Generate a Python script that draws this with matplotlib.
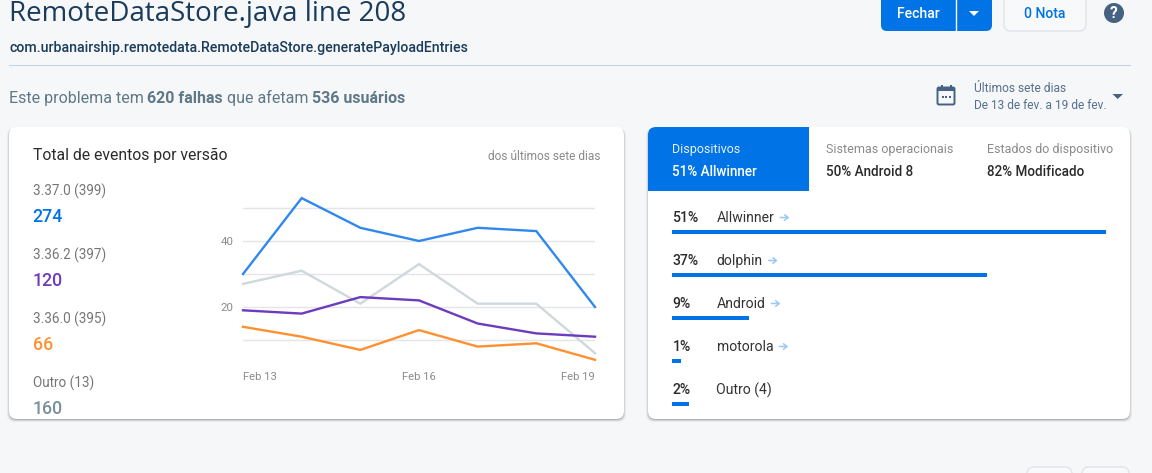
import matplotlib
matplotlib.use("Agg")
import matplotlib.pyplot as plt
from matplotlib.patches import FancyBboxPatch, Rectangle, Polygon, Circle

plt.rcParams['font.family'] = ['Roboto', 'DejaVu Sans']

# ---- data
days = ["Feb 13", "Feb 14", "Feb 15", "Feb 16", "Feb 17", "Feb 18", "Feb 19"]
v3370 = [30, 53, 44, 40, 44, 43, 20]
v3362 = [19, 18, 23, 22, 15, 12, 11]
v3360 = [14, 11, 7, 13, 8, 9, 4]
outro = [27, 31, 21, 33, 21, 21, 6]
y_ticks = [10, 20, 30, 40, 50]
y_labels = ["", "20", "", "40", ""]
x_ticks = [0, 3, 6]
legend_names = ["3.37.0 (399)", "3.36.2 (397)", "3.36.0 (395)", "Outro (13)"]
legend_totals = ["274", "120", "66", "160"]
device_names = ["Allwinner", "dolphin", "Android", "motorola", "Outro (4)"]
device_pct = [51, 37, 9, 1, 2]

BG = "#f6f7f9"; BLUE = "#0073e6"; DARK = "#1a3c5a"
LB = "#3088ee"; PUR = "#6d3bbd"; ORG = "#ff9030"; GRY = "#cfd8dc"

W, H = 1152, 473
fig = plt.figure(figsize=(W/100, H/100), dpi=100, facecolor=BG)
ui = fig.add_axes([0, 0, 1, 1]); ui.set_xlim(0, W); ui.set_ylim(H, 0); ui.axis("off")

def fs(px): return px * 0.72
def T(x, y, s, size=13, color="#333333", weight="normal", ha="left", va="center", **k):
    return ui.text(x, y, s, fontsize=fs(size), color=color, fontweight=weight, ha=ha, va=va, **k)
def box(x0, y0, x1, y1, r=8, fc="white", ec="none", lw=0, z=1):
    p = FancyBboxPatch((x0+r, y0+r), x1-x0-2*r, y1-y0-2*r, boxstyle=f"round,pad={r},rounding_size={r}",
                       fc=fc, ec=ec, lw=lw, zorder=z, mutation_aspect=1)
    ui.add_patch(p); return p

# header
T(9, 14, "RemoteDataStore.java line 208", 27.75, DARK, family=['Open Sans', 'DejaVu Sans'])
T(9, 48, "com.urbanairship.remotedata.RemoteDataStore.generatePayloadEntries", 14.07, DARK, "medium")
ui.plot([9, 1130], [65, 65], color="#c3d4e4", lw=0.8)
for x, s, wt in [(9, "Este problema tem", "normal"), (147, "620 falhas", "bold"),
                 (227, "que afetam", "normal"), (312, "536 usuários", "bold")]:
    T(x, 98, s, 16, "#5f7887", wt)

# buttons
box(881, -12, 992, 31, 6, BLUE)
ui.plot([955.5, 955.5], [0, 31], color="white", lw=1, zorder=2)
T(918.5, 13.5, "Fechar", 14, "white", "medium", ha="center", zorder=3)
ui.add_patch(Polygon([[969, 11], [979, 11], [974, 16]], fc="white", zorder=3))
box(1004, -12, 1086, 31, 7, "#f8f9fb", "#dfe3e8", 1)
T(1045, 13.5, "0 Nota", 14, BLUE, "medium", ha="center", zorder=3)
ui.add_patch(Circle((1114, 13), 10, fc="#456283", zorder=2))
T(1114, 13.5, "?", 15.5, "white", "bold", ha="center", zorder=3)

# date selector
ui.add_patch(FancyBboxPatch((938, 88), 16, 16, boxstyle="round,pad=0.5,rounding_size=1.5", fc="none", ec="#456283", lw=1.4, zorder=2))
ui.add_patch(Rectangle((938, 88), 16, 3.5, fc="#456283", zorder=2))
for x in (941.5, 945, 948.5):
    ui.add_patch(Rectangle((x, 96), 2, 2, fc="#456283", zorder=2))
for x in (941, 950):
    ui.add_patch(Rectangle((x, 85.5), 2, 3, fc="#456283", zorder=2))
T(974, 89, "Últimos sete dias", 12, "#55708c")
T(974, 105, "De 13 de fev. a 19 de fev.", 11.9, "#55708c")
ui.add_patch(Polygon([[1112.5, 94], [1123, 94], [1117.7, 99]], fc="#456283", zorder=2))

# cards
for x0, x1 in [(9, 624), (648, 1130)]:
    for off, al in [(3, .05), (2, .09), (1, .16)]:
        p = box(x0 - off + 1, 127 + 1, x1 + off - 1, 419 + off, 8, "#000000")
        p.set_alpha(al)
    box(x0, 127, x1, 419, 8, "white", z=2)

# left card
T(33, 155, "Total de eventos por versão", 15.8, "#2b2b2b", zorder=4)
T(600, 156, "dos últimos sete dias", 11.95, "#8a8a8a", ha="right", zorder=4)
colors_total = [BLUE, PUR, ORG, "#78909c"]
for i, (n, tot, c) in enumerate(zip(legend_names, legend_totals, colors_total)):
    T(33, 191 + 64 * i, n, 13.5, "#757575", zorder=4)
    T(32.5, 217 + 64 * i, tot, 17.7, c, "medium", zorder=4)

# line chart: value 0 at y=373, 3.3 px per unit
ax = fig.add_axes([243/W, 1 - 373/H, (595-243)/W, (373-191)/H], facecolor="none", zorder=5)
ax.set_xlim(0, 6); ax.set_ylim(0, 182/3.3)
xs = range(len(days))
ax.plot(xs, outro, color=GRY, lw=1.7, solid_joinstyle="miter", clip_on=False, zorder=3)
ax.plot(xs, v3360, color=ORG, lw=1.7, solid_joinstyle="miter", clip_on=False, zorder=4)
ax.plot(xs, v3362, color=PUR, lw=1.7, solid_joinstyle="miter", clip_on=False, zorder=5)
ax.plot(xs, v3370, color=LB, lw=1.7, solid_joinstyle="miter", clip_on=False, zorder=6)
ax.set_yticks(y_ticks, y_labels, fontsize=fs(11.5), color="#8a8a8a")
ax.set_xticks(x_ticks, [days[i] for i in x_ticks], fontsize=fs(11.2), color="#8a8a8a")
for lab, ha in zip(ax.get_xticklabels(), ["left", "center", "right"]):
    lab.set_ha(ha)
ax.tick_params(length=0); ax.tick_params(axis="y", pad=7); ax.tick_params(axis="x", pad=-1)
ax.grid(axis="y", color="#e3e5e8", lw=1); ax.set_axisbelow(True)
for s in ax.spines.values(): s.set_visible(False)

# right card tabs
tab = Rectangle((648, 127), 161, 64, fc=BLUE, zorder=3); ui.add_patch(tab)
clip = FancyBboxPatch((656, 135), 466, 276, boxstyle="round,pad=8,rounding_size=8", transform=ui.transData, fc="none", ec="none")
ui.add_patch(clip); tab.set_clip_path(clip)
tabs = [(672, "Dispositivos", "51% Allwinner", "#e8f1fc", "white"),
        (826, "Sistemas operacionais", "50% Android 8", "#8a8a8a", "#2b2b2b"),
        (987, "Estados do dispositivo", "82% Modificado", "#8a8a8a", "#2b2b2b")]
for x, a, b, c1, c2 in tabs:
    T(x, 149, a, 12.5, c1, zorder=4)
    T(x, 172, b, 13.5, c2, "medium", zorder=4)

# bars: 8.5 px per percent, first bar baseline at y=231.5, 43 px apart
bax = fig.add_axes([672/W, 1 - 425/H, (1106-672)/W, (425-205)/H], facecolor="none", zorder=5)
pos = list(range(len(device_names)))
bax.barh(pos, device_pct, height=4/43, color=BLUE)
bax.set_xlim(0, 51); bax.set_ylim(4 + (425 - 403.5)/43, -(231.5 - 205)/43)
bax.axis("off")
for i, (n, p) in enumerate(zip(device_names, device_pct)):
    y = 218 + 43 * i
    T(672.5, y, f"{p}%", 14, "#2b2b2b", "medium", zorder=6)
    t = T(716.5, y, n, 14, "#333333", zorder=6)
    if n != "Outro (4)":
        fig.canvas.draw()
        ui.annotate("", xy=(716.5 + t.get_window_extent().width + 15, y - 0.5),
                    xytext=(716.5 + t.get_window_extent().width + 6, y - 0.5),
                    arrowprops=dict(arrowstyle="->,head_length=0.25,head_width=0.2", color="#9cc7f5", lw=1.1, shrinkA=0, shrinkB=0), zorder=6)

# clipped pagination buttons at the page bottom
box(1027, 467, 1072, 490, 7, "#f8f9fb", "#dfe3e8", 1)
box(1082, 467, 1129, 490, 7, "#f8f9fb", "#dfe3e8", 1)

fig.savefig("out.png", dpi=100, facecolor=BG)
